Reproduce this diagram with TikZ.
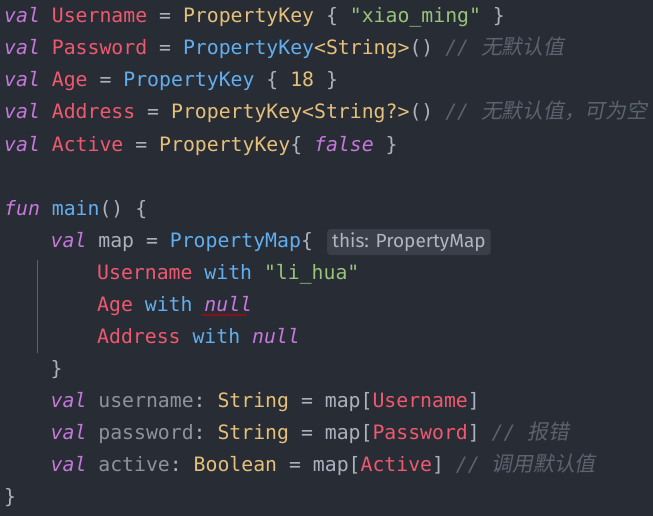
\documentclass[tikz,border=0pt]{standalone}
\usepackage{fontspec}
\setmonofont{DejaVu Sans Mono}
\newfontfamily\cjk{Noto Sans CJK SC}[FakeSlant=0.2,Scale=1.05]
\newfontfamily\hintfont{Fira Sans}
\usetikzlibrary{decorations.pathmorphing}
\definecolor{bg}{HTML}{282C34}
\definecolor{kw}{HTML}{C678DD}
\definecolor{rd}{HTML}{EF596F}
\definecolor{yl}{HTML}{E5C07B}
\definecolor{bl}{HTML}{61AFEF}
\definecolor{gr}{HTML}{98C379}
\definecolor{cm}{HTML}{5C6370}
\definecolor{tx}{HTML}{ABB2BF}
\definecolor{vr}{HTML}{8D939E}
\definecolor{hintbg}{HTML}{3B3F4A}
\newcommand{\K}[1]{\textcolor{kw}{\itshape #1}}
\newcommand{\R}[1]{\textcolor{rd}{#1}}
\newcommand{\Y}[1]{\textcolor{yl}{#1}}
\newcommand{\B}[1]{\textcolor{bl}{#1}}
\newcommand{\G}[1]{\textcolor{gr}{#1}}
\newcommand{\V}[1]{\textcolor{vr}{#1}}
\newcommand{\C}[1]{\textcolor{cm}{\itshape #1}}
\newcommand{\CJ}[1]{\textcolor{cm}{\cjk #1}}
\begin{document}
\begin{tikzpicture}[x=1pt,y=1pt,
  code/.style={anchor=base west,inner sep=0pt,text=tx,font=\ttfamily\fontsize{19.8}{20}\selectfont}]
\fill[bg] (0,0) rectangle (653,-516);
\useasboundingbox (0,0) rectangle (653,-516);
\def\cw{11.62}
\node[code] (l1) at (4,-23) {\K{val} \R{Username} = \Y{PropertyKey} \{ \G{"xiao\_ming"} \}};
\node[code] (l2) at (4,-55) {\K{val} \R{Password} = \B{PropertyKey}\Y{<String>}() \C{//} \CJ{无默认值}};
\node[code] (l3) at (4,-87) {\K{val} \R{Age} = \B{PropertyKey} \{ \Y{18} \}};
\node[code] (l4) at (4,-119) {\K{val} \R{Address} = \Y{PropertyKey<String?>}() \C{//} \CJ{无默认值，可为空}};
\node[code] (l5) at (4,-151) {\K{val} \R{Active} = \Y{PropertyKey}\{ \K{false} \}};
\node[code] (l7) at (4,-215) {\K{fun} \B{main}() \{};
\node[code] (l8) at (4+4*\cw,-247) {\K{val} map = \B{PropertyMap}\{};
\node[fill=hintbg,rounded corners=3pt,inner xsep=5pt,minimum height=22pt,anchor=west,
  text={rgb,255:red,176;green,181;blue,191},font=\hintfont\fontsize{19}{20}\selectfont] (hint) at (327,-242) {this: PropertyMap};
\node[code] (l9) at (4+8*\cw,-279) {\R{Username} \B{with} \G{"li\_hua"}};
\node[code] (l10) at (4+8*\cw,-311) {\R{Age} \B{with} \K{null}};
\node[code] (l11) at (4+8*\cw,-343) {\R{Address} \B{with} \K{null}};
\node[code] (l12) at (4+4*\cw,-375) {\}};
\node[code] (l13) at (4+4*\cw,-407) {\K{val} \V{username}: \Y{String} = map[\R{Username}]};
\node[code] (l14) at (4+4*\cw,-439) {\K{val} \V{password}: \Y{String} = map[\R{Password}] \C{//} \CJ{报错}};
\node[code] (l15) at (4+4*\cw,-471) {\K{val} \V{active}: \Y{Boolean} = map[\R{Active}] \C{//} \CJ{调用默认值}};
\node[code] (l16) at (4,-503) {\}};
\coordinate (ws) at (4+17*\cw,-315);
\coordinate (we) at (4+21*\cw-2,-315);
\draw[red!80!black,line width=0.6pt,decorate,decoration={snake,amplitude=0.9pt,segment length=3pt}] (ws) -- (we);
\coordinate (g1) at (37,-260);
\coordinate (g2) at (37,-353);
\draw[white!25!bg,line width=0.6pt] (g1) -- (g2);
\end{tikzpicture}
\end{document}
